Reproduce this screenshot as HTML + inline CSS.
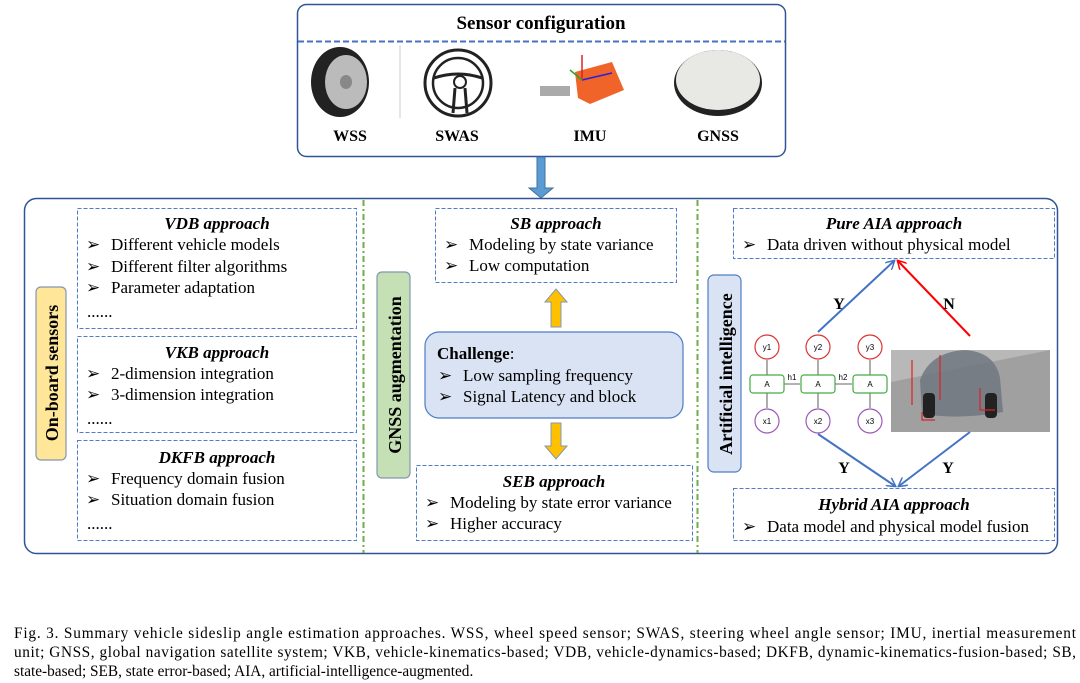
<!DOCTYPE html>
<html><head><meta charset="utf-8"><style>
html,body{margin:0;padding:0;background:#fff;}
svg{display:block;font-family:"Liberation Serif",serif;}
.t{font-size:17px;fill:#000;}
.h{font-size:17px;font-weight:bold;font-style:italic;}
.db{fill:#fff;stroke:#4f7cc4;stroke-width:1;stroke-dasharray:4,2;}
.cap{font-size:15.3px;}
</style></head><body>
<svg width="1080" height="683" viewBox="0 0 1080 683" xmlns="http://www.w3.org/2000/svg">
<rect x="297.5" y="4.5" width="488" height="152" rx="9" fill="#fff" stroke="#2f5597" stroke-width="1.5"/>
<text x="541" y="29" text-anchor="middle" font-size="19" font-weight="bold">Sensor configuration</text>
<line x1="298" y1="41.5" x2="785" y2="41.5" stroke="#4472c4" stroke-width="2" stroke-dasharray="6,3"/>
<ellipse cx="340" cy="82" rx="29" ry="35" fill="#222"/>
<ellipse cx="346" cy="82" rx="21" ry="27" fill="#bbb"/>
<ellipse cx="346" cy="82" rx="6" ry="7" fill="#888"/>
<line x1="400" y1="45" x2="400" y2="118" stroke="#ccc"/>
<circle cx="458" cy="83" r="33" fill="none" stroke="#222" stroke-width="3"/>
<circle cx="458" cy="83" r="25" fill="none" stroke="#222" stroke-width="2.5"/>
<circle cx="460" cy="82" r="6" fill="none" stroke="#222" stroke-width="2"/>
<path d="M434 78 Q458 70 482 78 M455 88 L453 113 M465 88 L467 113" stroke="#222" stroke-width="3" fill="none"/>
<path d="M575 72 L612 62 L624 90 L590 104 L578 98 Z" fill="#f0642a"/>
<rect x="540" y="86" width="30" height="10" fill="#aaa"/>
<line x1="582" y1="80" x2="612" y2="73" stroke="#22d" stroke-width="1.5"/>
<line x1="582" y1="80" x2="582" y2="55" stroke="#d22" stroke-width="1.5"/>
<line x1="582" y1="80" x2="570" y2="70" stroke="#2a2" stroke-width="1.5"/>
<ellipse cx="718" cy="83" rx="44" ry="33" fill="#222"/>
<ellipse cx="718" cy="80" rx="42" ry="30" fill="#e8e8e4"/>
<text x="350" y="141" text-anchor="middle" font-size="16" font-weight="bold">WSS</text>
<text x="457" y="141" text-anchor="middle" font-size="16" font-weight="bold">SWAS</text>
<text x="590" y="141" text-anchor="middle" font-size="16" font-weight="bold">IMU</text>
<text x="718" y="141" text-anchor="middle" font-size="16" font-weight="bold">GNSS</text>
<path d="M537 157 H545 V188 H553 L541 198 L529 188 H537 Z" fill="#5b9bd5" stroke="#41719c" stroke-width="1"/>
<rect x="24.5" y="198.5" width="1033" height="355" rx="12" fill="none" stroke="#2f5597" stroke-width="1.5"/>
<line x1="363.5" y1="200" x2="363.5" y2="553" stroke="#70ad47" stroke-width="2" stroke-dasharray="6,3,2,3"/>
<line x1="697.5" y1="200" x2="697.5" y2="553" stroke="#70ad47" stroke-width="2" stroke-dasharray="6,3,2,3"/>
<rect x="36" y="287" width="30" height="173" rx="5" fill="#ffe699" stroke="#8497b0" stroke-width="1.2"/>
<text transform="translate(58,373) rotate(-90)" text-anchor="middle" font-size="18" font-weight="bold">On-board sensors</text>
<rect x="77.5" y="208.5" width="279" height="120" class="db"/>
<text x="217" y="229" text-anchor="middle" class="h">VDB approach</text>
<g class="t">
<text x="86" y="250"><tspan>➢</tspan><tspan x="111">Different vehicle models</tspan></text>
<text x="86" y="272"><tspan>➢</tspan><tspan x="111">Different filter algorithms</tspan></text>
<text x="86" y="293"><tspan>➢</tspan><tspan x="111">Parameter adaptation</tspan></text>
<text x="87" y="317">......</text>
</g>
<rect x="77.5" y="336.5" width="279" height="96" class="db"/>
<text x="217" y="358" text-anchor="middle" class="h">VKB approach</text>
<g class="t">
<text x="86" y="379"><tspan>➢</tspan><tspan x="111">2-dimension integration</tspan></text>
<text x="86" y="400"><tspan>➢</tspan><tspan x="111">3-dimension integration</tspan></text>
<text x="87" y="424">......</text>
</g>
<rect x="77.5" y="440.5" width="279" height="100" class="db"/>
<text x="217" y="463" text-anchor="middle" class="h">DKFB approach</text>
<g class="t">
<text x="86" y="484"><tspan>➢</tspan><tspan x="111">Frequency domain fusion</tspan></text>
<text x="86" y="505"><tspan>➢</tspan><tspan x="111">Situation domain fusion</tspan></text>
<text x="87" y="529">......</text>
</g>
<rect x="377" y="272" width="33" height="206" rx="5" fill="#c5e0b4" stroke="#8497b0" stroke-width="1.2"/>
<text transform="translate(401,375) rotate(-90)" text-anchor="middle" font-size="18" font-weight="bold">GNSS augmentation</text>
<rect x="435.5" y="208.5" width="241" height="74" class="db"/>
<text x="556" y="229" text-anchor="middle" class="h">SB approach</text>
<g class="t">
<text x="444" y="250"><tspan>➢</tspan><tspan x="469">Modeling by state variance</tspan></text>
<text x="444" y="271"><tspan>➢</tspan><tspan x="469">Low computation</tspan></text>
</g>
<path d="M551 327 V302 H545 L556 289 L567 302 H561 V327 Z" fill="#ffc000" stroke="#8497b0" stroke-width="1"/>
<rect x="425" y="332" width="258" height="86" rx="14" fill="#dae3f3" stroke="#4f7cc4" stroke-width="1.2"/>
<g class="t">
<text x="437" y="359"><tspan font-weight="bold">Challenge</tspan>:</text>
<text x="438" y="381"><tspan>➢</tspan><tspan x="463">Low sampling frequency</tspan></text>
<text x="438" y="402"><tspan>➢</tspan><tspan x="463">Signal Latency and block</tspan></text>
</g>
<path d="M551 423 V446 H545 L556 459 L567 446 H561 V423 Z" fill="#ffc000" stroke="#8497b0" stroke-width="1"/>
<rect x="416.5" y="465.5" width="276" height="75" class="db"/>
<text x="554" y="487" text-anchor="middle" class="h">SEB approach</text>
<g class="t">
<text x="425" y="508"><tspan>➢</tspan><tspan x="450">Modeling by state error variance</tspan></text>
<text x="425" y="529"><tspan>➢</tspan><tspan x="450">Higher accuracy</tspan></text>
</g>
<rect x="708" y="275" width="33" height="197" rx="6" fill="#dae3f3" stroke="#4f7cc4" stroke-width="1.2"/>
<text transform="translate(732,374) rotate(-90)" text-anchor="middle" font-size="18" font-weight="bold">Artificial intelligence</text>
<rect x="733.5" y="208.5" width="321" height="50" class="db"/>
<text x="894" y="229" text-anchor="middle" class="h">Pure AIA approach</text>
<text x="742" y="250" class="t"><tspan>➢</tspan><tspan x="767">Data driven without physical model</tspan></text>
<rect x="733.5" y="488.5" width="321" height="52" class="db"/>
<text x="894" y="510" text-anchor="middle" class="h">Hybrid AIA approach</text>
<text x="742" y="532" class="t"><tspan>➢</tspan><tspan x="767">Data model and physical model fusion</tspan></text>
<g font-family="Liberation Sans,sans-serif" font-size="8" text-anchor="middle">
<g stroke="#333" stroke-width="0.8">
<line x1="767" y1="360" x2="767" y2="375"/><line x1="818" y1="360" x2="818" y2="375"/><line x1="870" y1="360" x2="870" y2="375"/>
<line x1="767" y1="393" x2="767" y2="408"/><line x1="818" y1="393" x2="818" y2="408"/><line x1="870" y1="393" x2="870" y2="408"/>
<line x1="783" y1="384" x2="800" y2="384"/><line x1="835" y1="384" x2="852" y2="384"/>
</g>
<g fill="#fff" stroke="#d33" stroke-width="1.2"><circle cx="767" cy="347" r="12"/><circle cx="818" cy="347" r="12"/><circle cx="870" cy="347" r="12"/></g>
<g fill="#fff" stroke="#9b59b6" stroke-width="1.2"><circle cx="767" cy="421" r="12"/><circle cx="818" cy="421" r="12"/><circle cx="870" cy="421" r="12"/></g>
<g fill="#fff" stroke="#4a4" stroke-width="1.2"><rect x="750" y="375" width="34" height="18" rx="3"/><rect x="801" y="375" width="34" height="18" rx="3"/><rect x="853" y="375" width="34" height="18" rx="3"/></g>
<text x="767" y="350">y1</text><text x="818" y="350">y2</text><text x="870" y="350">y3</text>
<text x="767" y="424">x1</text><text x="818" y="424">x2</text><text x="870" y="424">x3</text>
<text x="767" y="387">A</text><text x="818" y="387">A</text><text x="870" y="387">A</text>
<text x="792" y="380">h1</text><text x="843" y="380">h2</text>
</g>
<rect x="891" y="350" width="159" height="82" fill="#b8b8b8"/>
<path d="M891 382 L1050 350 V432 H891 Z" fill="#a0a0a0"/>
<path d="M920 380 Q930 352 965 350 Q995 352 1000 378 L1003 412 Q960 420 922 414 Z" fill="#6f7780" opacity="0.85"/>
<rect x="923" y="393" width="12" height="25" rx="4" fill="#222"/><rect x="985" y="393" width="12" height="25" rx="4" fill="#222"/>
<g stroke="#d22" stroke-width="1.2" fill="none"><path d="M912 360 V405 M940 355 V400 M980 388 V410 H995 M922 412 V420 H935"/></g>
<defs>
<marker id="ab" markerWidth="10" markerHeight="10" refX="8" refY="5" orient="auto" markerUnits="userSpaceOnUse"><path d="M0 0 L9 5 L0 10" fill="none" stroke="#4472c4" stroke-width="1.5"/></marker>
<marker id="ar" markerWidth="10" markerHeight="10" refX="8" refY="5" orient="auto" markerUnits="userSpaceOnUse"><path d="M0 0 L9 5 L0 10" fill="none" stroke="#f00" stroke-width="1.5"/></marker>
</defs>
<line x1="818" y1="332" x2="894" y2="261" stroke="#4472c4" stroke-width="2" marker-end="url(#ab)"/>
<line x1="970" y1="336" x2="898" y2="261" stroke="#f00" stroke-width="2" marker-end="url(#ar)"/>
<line x1="818" y1="434" x2="895" y2="486" stroke="#4472c4" stroke-width="2" marker-end="url(#ab)"/>
<line x1="970" y1="432" x2="899" y2="486" stroke="#4472c4" stroke-width="2" marker-end="url(#ab)"/>
<text x="839" y="309" font-size="16" font-weight="bold" text-anchor="middle">Y</text>
<text x="949" y="309" font-size="16" font-weight="bold" text-anchor="middle">N</text>
<text x="844" y="473" font-size="16" font-weight="bold" text-anchor="middle">Y</text>
<text x="948" y="473" font-size="16" font-weight="bold" text-anchor="middle">Y</text>
<text x="14" y="638" class="cap" textLength="1062" lengthAdjust="spacing">Fig. 3.  Summary vehicle sideslip angle estimation approaches. WSS, wheel speed sensor; SWAS, steering wheel angle sensor; IMU, inertial measurement</text>
<text x="14" y="657" class="cap" textLength="1062" lengthAdjust="spacing">unit; GNSS, global navigation satellite system; VKB, vehicle-kinematics-based; VDB, vehicle-dynamics-based; DKFB, dynamic-kinematics-fusion-based; SB,</text>
<text x="14" y="676" class="cap">state-based; SEB, state error-based; AIA, artificial-intelligence-augmented.</text>
</svg>
</body></html>
